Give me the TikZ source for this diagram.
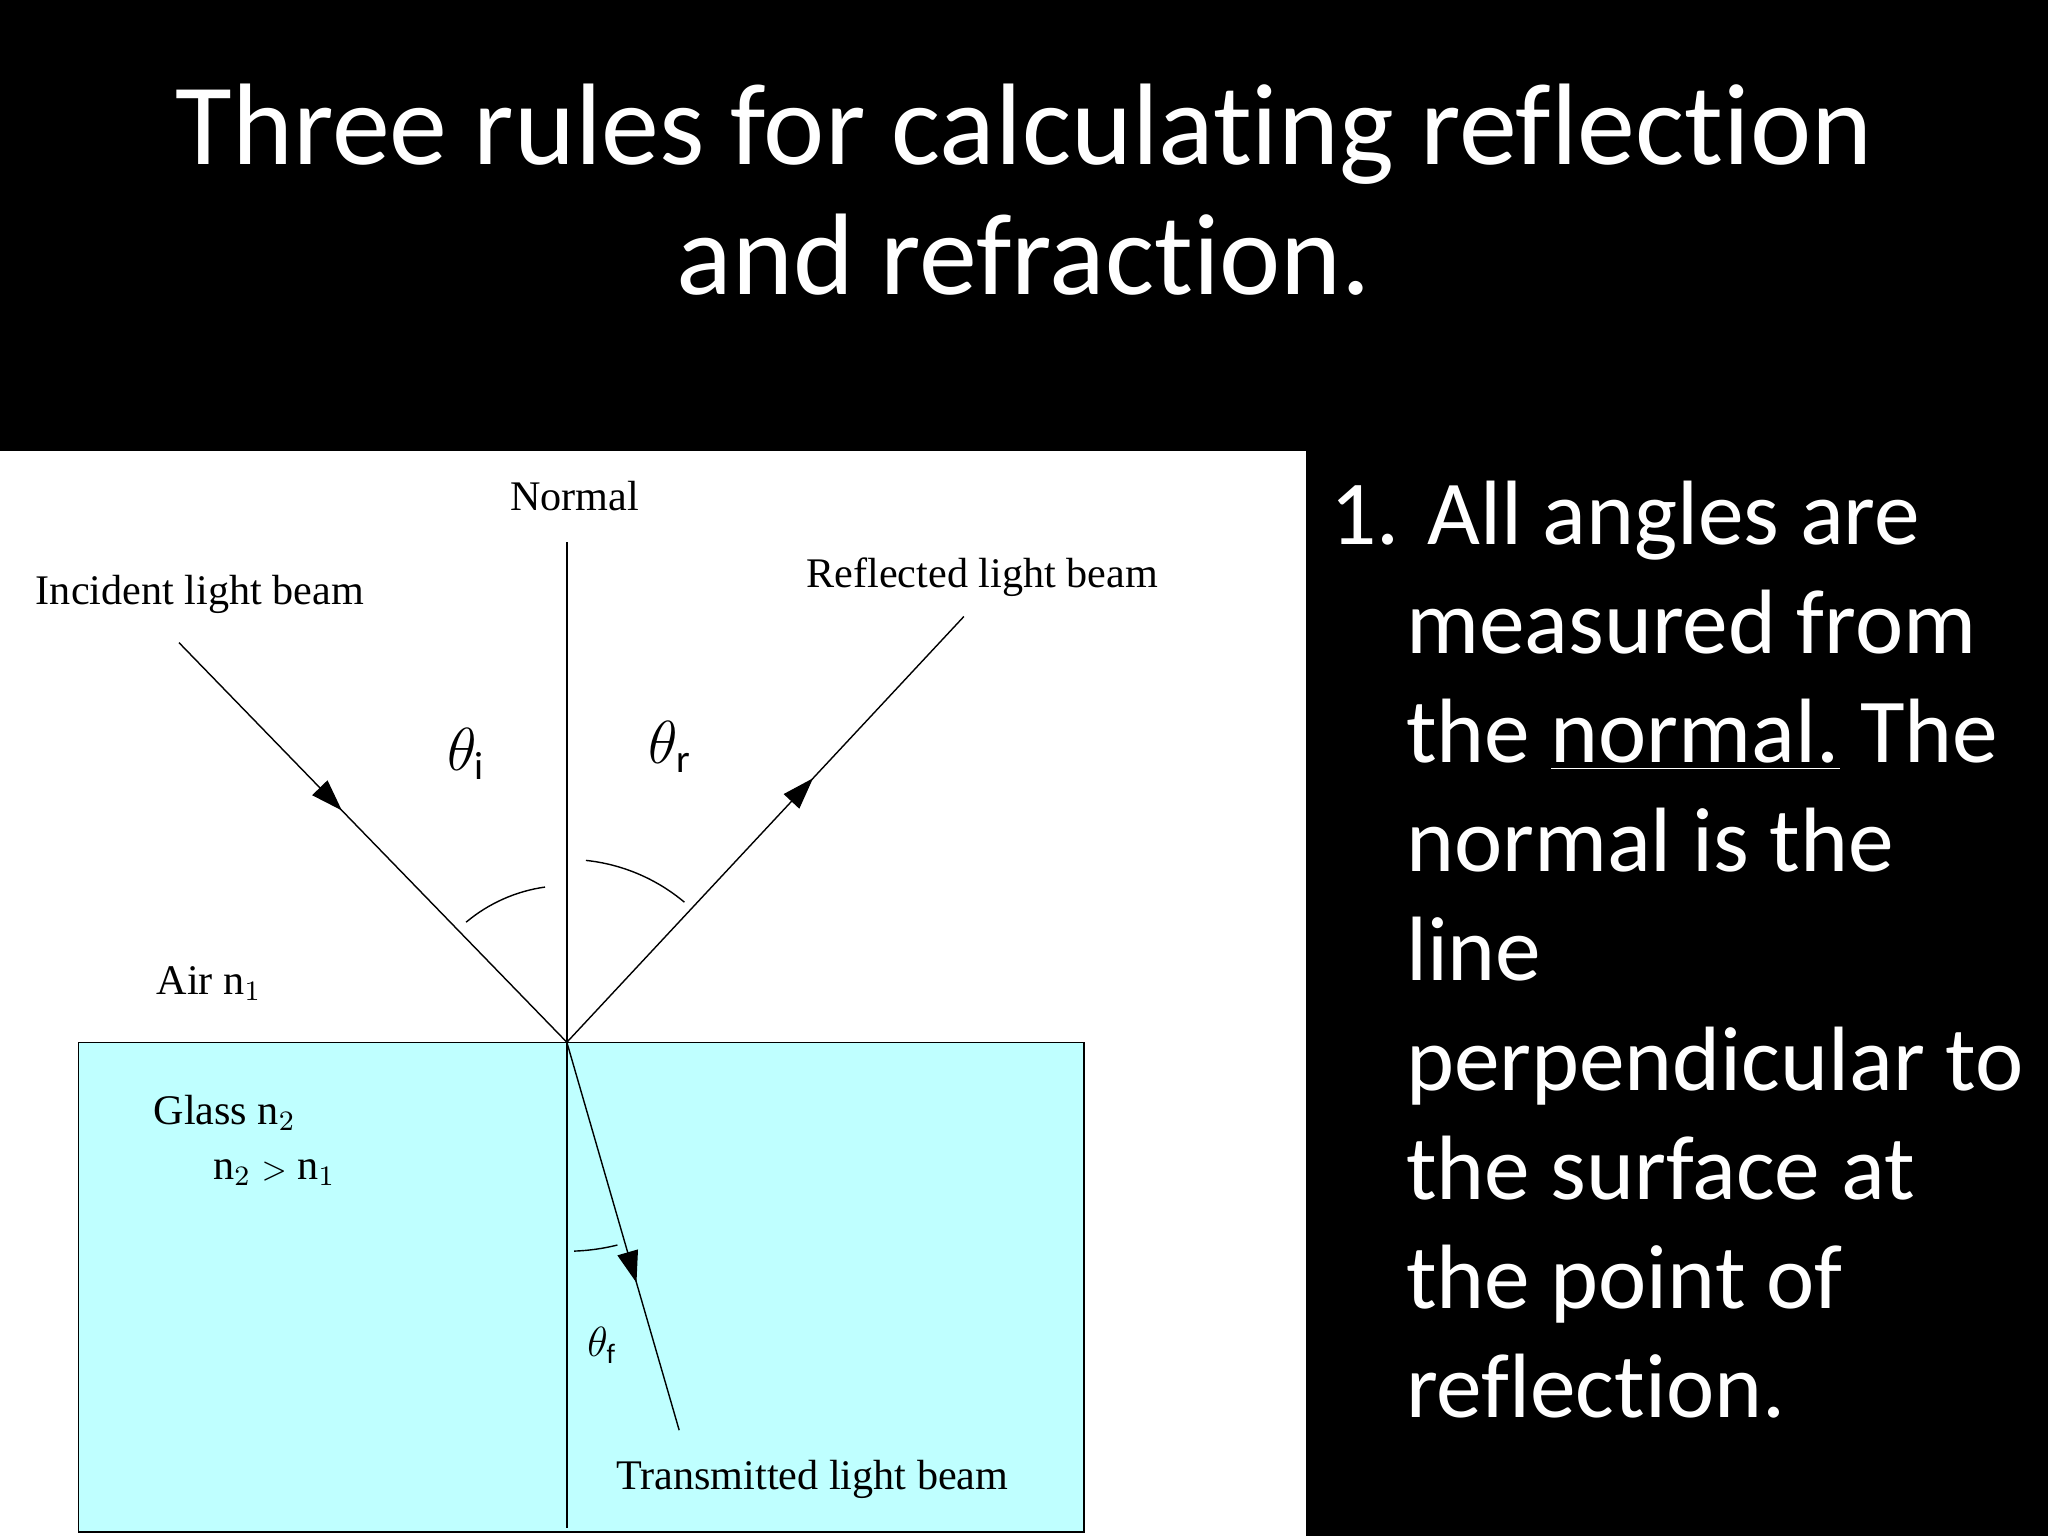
\documentclass[tikz,border=0pt]{standalone}
\usepackage{fontspec}
\setmainfont{Carlito}[RawFeature=-liga]
\newfontfamily\serifd{Liberation Serif}
\usetikzlibrary{arrows.meta,decorations.markings,calc}
\begin{document}
\begin{tikzpicture}[x=0.013061cm,y=0.013061cm,
  lbl/.style={font=\serifd\fontsize{12}{14}\selectfont,inner sep=0pt},
  beam/.style={thin,postaction={decorate},decoration={markings,mark=at position #1 with {\arrow{Triangle[length=9pt,width=6pt]}}}},
  body/.style={text=white,font=\fontsize{26}{31}\selectfont,anchor=base west,inner sep=0pt}]
\fill[black] (0,0) rectangle (1568,1176);
\node[text=white,font=\fontsize{33}{37}\selectfont,align=center] (title) at (784,1176-145) {Three rules for calculating reflection\\and refraction.};
\fill[white] (0,1176-1176) rectangle (1000,1176-345);
\draw[fill={rgb,255:red,191;green,255;blue,255},thin] (60,1176-1173) rectangle (830,1176-798);
\coordinate (O) at (434,1176-798);
\coordinate (ntop) at (434,1176-415);
\coordinate (nbot) at (434,1176-1170);
\coordinate (inc) at (137,1176-492);
\coordinate (ref) at (738,1176-472);
\coordinate (tr) at (520,1176-1095);
\draw[thin] (ntop) -- (nbot);
\draw[beam=0.42] (inc) -- (O);
\draw[beam=0.62] (O) -- (ref);
\draw[beam=0.62] (O) -- (tr);
\draw[thin] ($(O)+(130:120)$) arc (130:98:120);
\draw[thin] ($(O)+(84:140)$) arc (84:50:140);
\draw[thin] ($(O)+(-88:160)$) arc (-88:-76:160);
\node[lbl] (nl) at (440,1176-380) {Normal};
\node[lbl] (il) at (153,1176-455) {Incident light beam};
\node[lbl] (rl) at (752,1176-442) {Reflected light beam};
\node[lbl,font=\serifd\fontsize{16}{16}\selectfont] (ti) at (357,1176-577) {$\theta_{\mathrm{i}}$};
\node[lbl,font=\serifd\fontsize{16}{16}\selectfont] (tq) at (513,1176-572) {$\theta_{\mathrm{r}}$};
\node[lbl] (air) at (160,1176-753) {Air n$_1$};
\node[lbl] (gl) at (172,1176-852) {Glass n$_2$};
\node[lbl] (ineq) at (210,1176-898) {n$_2$ {\fontsize{9}{9}\selectfont$>$} n$_1$};
\node[lbl] (tf) at (461,1176-1030) {$\theta_{\mathrm{f}}$};
\node[lbl] (tl) at (622,1176-1133) {Transmitted light beam};
\node[body] (l1) at (1018,1176-417) {1. All angles are};
\node[body] (l2) at (1076,1176-500) {measured from};
\node[body] (l3) at (1076,1176-584) {the \underline{normal.} The};
\node[body] (l4) at (1076,1176-667) {normal is the};
\node[body] (l5) at (1076,1176-751) {line};
\node[body] (l6) at (1076,1176-835) {perpendicular to};
\node[body] (l7) at (1076,1176-918) {the surface at};
\node[body] (l8) at (1076,1176-1002) {the point of};
\node[body] (l9) at (1076,1176-1085) {reflection.};
\end{tikzpicture}
\end{document}
